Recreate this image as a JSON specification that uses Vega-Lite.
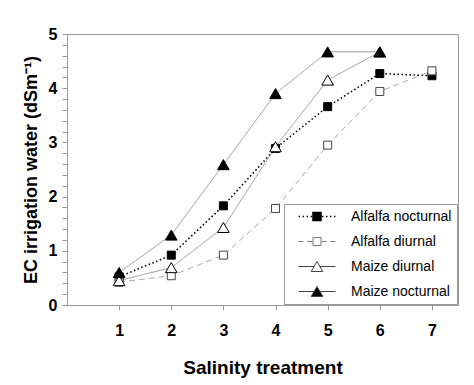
{
  "$schema": "https://vega.github.io/schema/vega-lite/v6.json",
  "width": 391,
  "height": 271,
  "autosize": "none",
  "padding": {"left": 67, "top": 34, "right": 16, "bottom": 80},
  "background": "white",
  "config": {
    "font": "Liberation Sans",
    "view": {"stroke": "#999", "strokeWidth": 1},
    "axis": {
      "grid": false,
      "domainColor": "#999",
      "tickColor": "#999",
      "tickSize": 5,
      "labelFont": "Liberation Sans",
      "labelFontWeight": "bold",
      "labelFontSize": 16,
      "labelColor": "black",
      "titleFont": "Liberation Sans",
      "titleFontWeight": "bold",
      "titleColor": "black"
    }
  },
  "data": {
    "values": [
      {"series": "Alfalfa nocturnal", "x": 1, "y": 0.52},
      {"series": "Alfalfa nocturnal", "x": 2, "y": 0.92},
      {"series": "Alfalfa nocturnal", "x": 3, "y": 1.83},
      {"series": "Alfalfa nocturnal", "x": 4, "y": 2.89},
      {"series": "Alfalfa nocturnal", "x": 5, "y": 3.66},
      {"series": "Alfalfa nocturnal", "x": 6, "y": 4.27},
      {"series": "Alfalfa nocturnal", "x": 7, "y": 4.23},
      {"series": "Alfalfa diurnal", "x": 1, "y": 0.42},
      {"series": "Alfalfa diurnal", "x": 2, "y": 0.54},
      {"series": "Alfalfa diurnal", "x": 3, "y": 0.92},
      {"series": "Alfalfa diurnal", "x": 4, "y": 1.78},
      {"series": "Alfalfa diurnal", "x": 5, "y": 2.95},
      {"series": "Alfalfa diurnal", "x": 6, "y": 3.94},
      {"series": "Alfalfa diurnal", "x": 7, "y": 4.32},
      {"series": "Maize diurnal", "x": 1, "y": 0.45},
      {"series": "Maize diurnal", "x": 2, "y": 0.69},
      {"series": "Maize diurnal", "x": 3, "y": 1.43},
      {"series": "Maize diurnal", "x": 4, "y": 2.92},
      {"series": "Maize diurnal", "x": 5, "y": 4.15},
      {"series": "Maize diurnal", "x": 6, "y": 4.67},
      {"series": "Maize nocturnal", "x": 1, "y": 0.6},
      {"series": "Maize nocturnal", "x": 2, "y": 1.29},
      {"series": "Maize nocturnal", "x": 3, "y": 2.59},
      {"series": "Maize nocturnal", "x": 4, "y": 3.9},
      {"series": "Maize nocturnal", "x": 5, "y": 4.67},
      {"series": "Maize nocturnal", "x": 6, "y": 4.67}
    ]
  },
  "encoding": {
    "x": {
      "field": "x",
      "type": "quantitative",
      "scale": {"domain": [0, 7.5], "nice": false, "zero": false},
      "axis": {
        "values": [1, 2, 3, 4, 5, 6, 7],
        "title": "Salinity treatment",
        "titleFontSize": 19,
        "labelPadding": 12,
        "titlePadding": 20
      }
    },
    "y": {
      "field": "y",
      "type": "quantitative",
      "scale": {"domain": [0, 5], "nice": false},
      "axis": {
        "values": [0, 0.2, 0.4, 0.6, 0.8, 1, 1.2, 1.4, 1.6, 1.8, 2, 2.2, 2.4, 2.6, 2.8, 3, 3.2, 3.4, 3.6, 3.8, 4, 4.2, 4.4, 4.6, 4.8, 5],
        "labelExpr": "datum.value % 1 === 0 ? '' + datum.value : ''",
        "labelOverlap": false,
        "labelFlush": false,
        "labelPadding": 5,
        "title": "EC irrigation water (dSm⁻¹)",
        "titleFontSize": 18,
        "titlePadding": 8
      }
    }
  },
  "layer": [
    {
      "mark": {"type": "line"},
      "encoding": {
        "detail": {"field": "series"},
        "stroke": {
          "field": "series",
          "type": "nominal",
          "scale": {"domain": ["Maize nocturnal", "Maize diurnal", "Alfalfa diurnal", "Alfalfa nocturnal"], "range": ["#999999", "#999999", "#aaaaaa", "black"]},
          "legend": null
        },
        "strokeDash": {
          "field": "series",
          "type": "nominal",
          "scale": {"domain": ["Maize nocturnal", "Maize diurnal", "Alfalfa diurnal", "Alfalfa nocturnal"], "range": [[1, 0], [1, 0], [6, 4], [1.5, 2.5]]},
          "legend": null
        },
        "strokeWidth": {
          "field": "series",
          "type": "nominal",
          "scale": {"type": "ordinal", "domain": ["Maize nocturnal", "Maize diurnal", "Alfalfa diurnal", "Alfalfa nocturnal"], "range": [1, 1, 1, 1.6]},
          "legend": null
        }
      }
    },
    {
      "mark": {"type": "point", "filled": false, "opacity": 1, "strokeWidth": 1},
      "encoding": {
        "shape": {
          "field": "series",
          "type": "nominal",
          "scale": {"domain": ["Maize nocturnal", "Maize diurnal", "Alfalfa diurnal", "Alfalfa nocturnal"], "range": ["triangle-up", "triangle-up", "square", "square"]},
          "legend": null
        },
        "fill": {
          "field": "series",
          "type": "nominal",
          "scale": {"domain": ["Maize nocturnal", "Maize diurnal", "Alfalfa diurnal", "Alfalfa nocturnal"], "range": ["black", "white", "white", "black"]},
          "legend": null
        },
        "stroke": {
          "field": "series",
          "type": "nominal",
          "scale": {"domain": ["Maize nocturnal", "Maize diurnal", "Alfalfa diurnal", "Alfalfa nocturnal"], "range": ["black", "black", "#444444", "black"]},
          "legend": null
        },
        "size": {
          "field": "series",
          "type": "nominal",
          "scale": {"type": "ordinal", "domain": ["Maize nocturnal", "Maize diurnal", "Alfalfa diurnal", "Alfalfa nocturnal"], "range": [135, 135, 64, 64]},
          "legend": null
        }
      }
    },
    {
      "transform": [{"filter": "false"}],
      "mark": {"type": "point", "filled": true, "opacity": 1},
      "encoding": {
        "shape": {
          "field": "series",
          "type": "nominal",
          "scale": {
            "domain": ["Alfalfa nocturnal", "Alfalfa diurnal", "Maize diurnal", "Maize nocturnal"],
            "range": [
              "M-0.92,0H-0.85M-0.72,0H-0.65M-0.52,0H-0.45M-0.32,0H-0.25M0.25,0H0.32M0.45,0H0.52M0.65,0H0.72M0.85,0H0.92M-0.2,-0.2H0.2V0.2H-0.2Z",
              "M-0.92,0H-0.68M-0.48,0H-0.24M0.24,0H0.48M0.68,0H0.92M-0.2,-0.2H0.2V0.2H-0.2Z",
              "M-0.92,0H-0.145M0.145,0H0.92M0,-0.25L0.29,0.25H-0.29Z",
              "M-0.92,0H-0.145M0.145,0H0.92M0,-0.25L0.29,0.25H-0.29Z"
            ]
          },
          "legend": {
            "title": null,
            "orient": "bottom-right",
            "offset": 1,
            "padding": 5,
            "strokeColor": "#999",
            "fillColor": "white",
            "symbolSize": 1600,
            "symbolOpacity": 1,
            "clipHeight": 15,
            "rowPadding": 10,
            "symbolOffset": 7,
            "labelOffset": 13,
            "labelFont": "Liberation Sans",
            "labelFontSize": 14,
            "labelColor": "black",
            "labelLimit": 200
          }
        },
        "fill": {
          "field": "series",
          "type": "nominal",
          "scale": {"domain": ["Alfalfa nocturnal", "Alfalfa diurnal", "Maize diurnal", "Maize nocturnal"], "range": ["black", "white", "white", "black"]}
        },
        "stroke": {
          "field": "series",
          "type": "nominal",
          "scale": {"domain": ["Alfalfa nocturnal", "Alfalfa diurnal", "Maize diurnal", "Maize nocturnal"], "range": ["black", "#777777", "#444444", "#444444"]}
        },
        "strokeWidth": {
          "field": "series",
          "type": "nominal",
          "scale": {"type": "ordinal", "domain": ["Alfalfa nocturnal", "Alfalfa diurnal", "Maize diurnal", "Maize nocturnal"], "range": [1.6, 1, 1, 1]}
        }
      }
    }
  ],
  "resolve": {
    "scale": {
      "shape": "independent",
      "fill": "independent",
      "stroke": "independent",
      "size": "independent",
      "strokeWidth": "independent",
      "strokeDash": "independent"
    }
  }
}
